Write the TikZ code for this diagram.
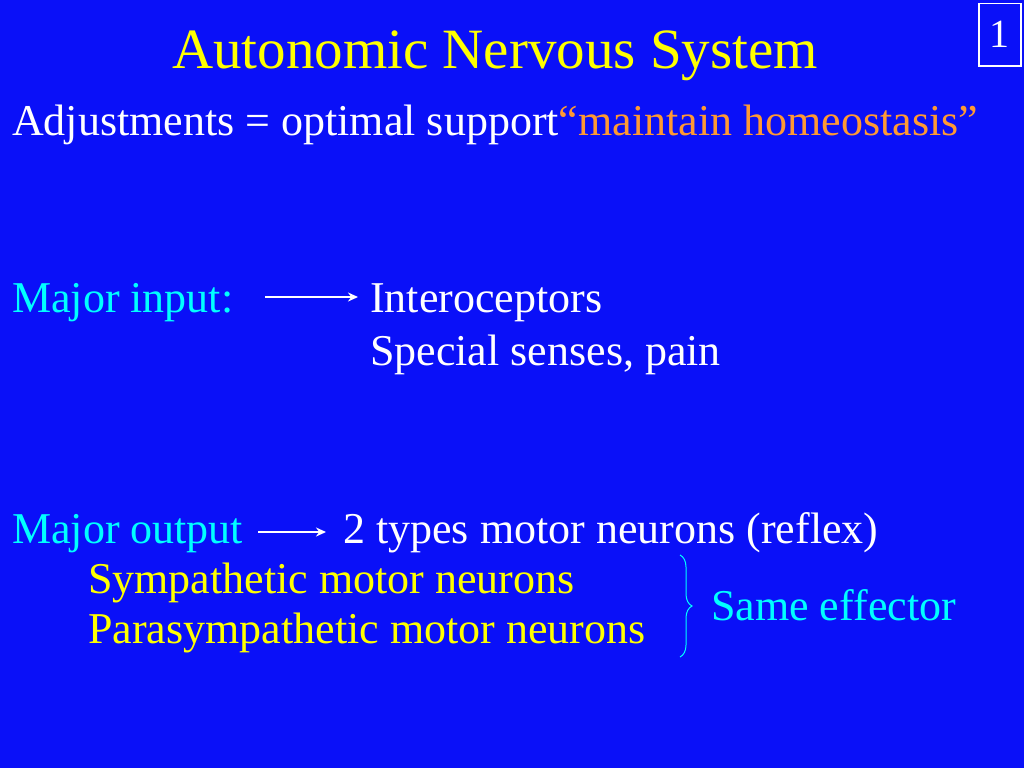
\documentclass[tikz,border=0pt]{standalone}
\usepackage{fontspec}
\setmainfont{Liberation Serif}
\usetikzlibrary{decorations.pathreplacing,arrows.meta}
\definecolor{bg}{HTML}{0A10F8}
\definecolor{ttl}{HTML}{FFFF00}
\definecolor{cy}{HTML}{00FFFF}
\definecolor{orn}{HTML}{FF9933}
\begin{document}
\begin{tikzpicture}[x=1pt,y=-1pt,
  txt/.style={anchor=base west,inner sep=0pt,font=\fontsize{44}{48}\selectfont},
  arr/.style={white,line width=2.2pt,-{Stealth[length=10pt,width=9pt]}}]
\fill[bg] (0,0) rectangle (1024,768);
\useasboundingbox (0,0) rectangle (1024,768);
\node[anchor=base,inner sep=0pt,text=ttl,font=\fontsize{57}{60}\selectfont] (title) at (495,68) {Autonomic Nervous System};
\node[draw=white,line width=1.5pt,minimum width=42pt,minimum height=62pt,text=white,font=\fontsize{40}{44}\selectfont,anchor=north west,inner sep=0pt] (num) at (978,3) {1};
\node[txt,text=white] (adj) at (12,135) {Adjustments = optimal support\textcolor{orn}{“maintain homeostasis”}};
\node[txt,text=cy] (mi) at (12,312) {Major input:};
\node[txt,text=white] (int) at (370,312) {Interoceptors};
\node[txt,text=white] (ss) at (370,365) {Special senses, pain};
\coordinate (a1) at (265,297);
\draw[arr] (a1) -- (358,297);
\node[txt,text=cy] (mo) at (12,543) {Major output};
\node[txt,text=white] (two) at (343,543) {2 types motor neurons (reflex)};
\coordinate (a2) at (258,532);
\draw[arr] (a2) -- (326,532);
\node[txt,text=ttl] (sym) at (88,593) {Sympathetic motor neurons};
\node[txt,text=ttl] (par) at (88,643) {Parasympathetic motor neurons};
\draw[cy,line width=1pt,decorate,decoration={brace,amplitude=12pt}] (680,555) -- (680,657);
\node[txt,text=cy] (se) at (711,620) {Same effector};
\end{tikzpicture}
\end{document}
